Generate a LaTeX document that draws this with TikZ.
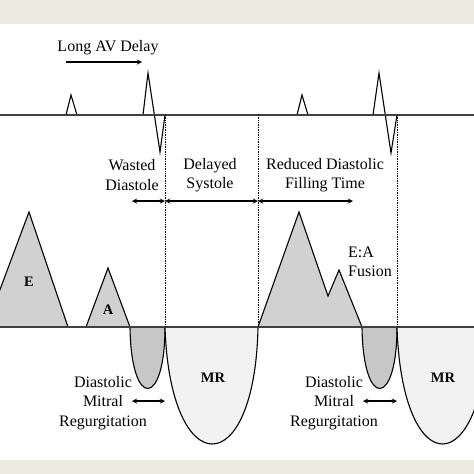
\documentclass[tikz,border=0pt]{standalone}
\usepackage{fontspec}
\setmainfont{Liberation Serif}
\usepackage{tikz}
\usetikzlibrary{arrows}
\definecolor{band}{HTML}{EBEBE0}
\tikzstyle{label} = [font=\fontsize{16}{19.5}\selectfont, align=center, inner sep=0pt]
\tikzstyle{wavename} = [font=\fontsize{14.5}{16}\selectfont\bfseries, inner sep=0pt]
\tikzstyle{arrow} = [line width=1.3pt,->,>=stealth]
\tikzstyle{span} = [line width=1.3pt,<->,>=stealth]
\tikzstyle{base} = [line width=1.5pt, draw=black!75]
\tikzstyle{trace} = [line width=1.1pt, draw=black, line join=miter]
\tikzstyle{marker} = [densely dotted, line width=0.7pt]

\begin{document}
\begin{tikzpicture}[x=1pt, y=-1pt]
        \useasboundingbox (0,0) rectangle (474,474);
        % Bands
        \fill [band] (0,0) rectangle (474,24);
        \fill [band] (0,460) rectangle (474,474);

        \begin{scope}
        \clip (0,24) rectangle (474,460);
        % Mitral flow
        \filldraw [trace, fill=black!18] (-14,327) -- (29,212) -- (68,327);
        \filldraw [trace, fill=black!18] (86,327) -- (108,268) -- (130,327);
        \filldraw [trace, fill=black!18] (258,327) -- (299,212) -- (328,296) -- (339,270) -- (362,327);
        \filldraw [trace, fill=black!22] (130,327) .. controls (131,410) and (165,408) .. (165,327);
        \filldraw [trace, fill=black!22] (362,327) .. controls (363,410) and (397,408) .. (397,327);
        \filldraw [trace, fill=black!5] (165,327) .. controls (170,483) and (255,483) .. (258,327);
        \filldraw [trace, fill=black!5] (397,327) .. controls (402,483) and (483,483) .. (488,327);

        % ECG
        \draw [trace] (66,115) -- (71,95) -- (77,115);
        \draw [trace] (143,115) -- (148,73) -- (160,152) -- (165,115);
        \draw [trace] (297,115) -- (302,95) -- (308,115);
        \draw [trace] (373,115) -- (379,73) -- (391,153) -- (397,115);

        % Baselines
        \draw [base] (0,115) -- (474,115);
        \draw [base] (0,327) -- (474,327);
        \end{scope}

        % Timing markers
        \draw [marker] (165,115) -- (165,327);
        \draw [marker] (258,115) -- (258,327);
        \draw [marker] (397,115) -- (397,327);

        % Nodes
        \node (av_delay) [label] at (108,48) {Long AV Delay};
        \node (wasted) [label] at (132,175) {Wasted\\Diastole};
        \node (delayed) [label] at (210,175) {Delayed\\Systole};
        \node (reduced) [label] at (325,175) {Reduced Diastolic\\Filling Time};
        \node (fusion) [label, align=left, anchor=west] at (348,262) {E:A\\Fusion};
        \node (dmr_left) [label] at (103,403) {Diastolic\\Mitral\\Regurgitation};
        \node (dmr_right) [label] at (334,403) {Diastolic\\Mitral\\Regurgitation};
        \node (e_wave) [wavename] at (29,282) {E};
        \node (a_wave) [wavename] at (108,310) {A};
        \node (mr_left) [wavename] at (213,378) {MR};
        \node (mr_right) [wavename] at (443,378) {MR};

        % Arrow ends
        \coordinate (av_start) at (66,62);
        \coordinate (av_end) at (142,62);
        \coordinate (t0) at (132,201);
        \coordinate (t1) at (165,201);
        \coordinate (t2) at (258,201);
        \coordinate (t3) at (353,201);
        \coordinate (dl0) at (132,401);
        \coordinate (dl1) at (165,401);
        \coordinate (dr0) at (363,401);
        \coordinate (dr1) at (397,401);

        % Arrows
        \draw [arrow] (av_start) -- (av_end);
        \draw [span] (t0) -- (t1);
        \draw [span] (t1) -- (t2);
        \draw [span] (t2) -- (t3);
        \draw [span] (dl0) -- (dl1);
        \draw [span] (dr0) -- (dr1);
    \end{tikzpicture}
\end{document}
